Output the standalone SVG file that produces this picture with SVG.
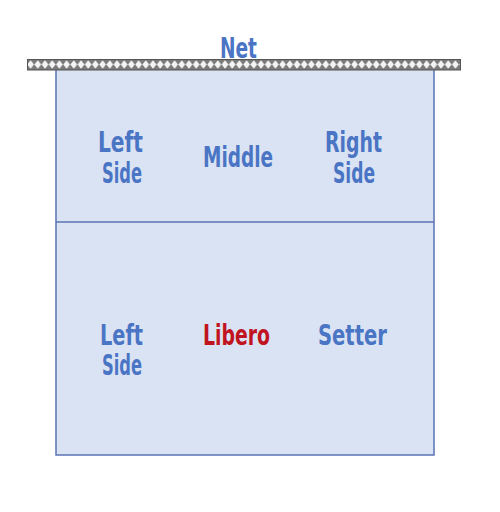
<svg xmlns="http://www.w3.org/2000/svg" width="500" height="512" viewBox="0 0 500 512">
<defs>
<pattern id="netpat" x="27" y="59" width="7.2" height="11" patternUnits="userSpaceOnUse">
<rect width="7.2" height="11" fill="#7a7a7a"/>
<path d="M3.6 1.2 L7 5.5 L3.6 9.8 L0.2 5.5 Z" fill="#f4f4f4"/>
</pattern>
<style>
.t{font-family:"DejaVu Sans Condensed","DejaVu Sans",sans-serif;font-weight:bold;font-size:28px;fill:#4a74c4;text-anchor:middle}
.r{fill:#c0141e}
</style>
</defs>
<rect width="500" height="512" fill="#ffffff"/>
<g id="court">
<rect x="56" y="66" width="378" height="389" fill="#dae3f3" stroke="#5a74b4" stroke-width="1.5"/>
<line x1="56" y1="222" x2="434" y2="222" stroke="#5a74b4" stroke-width="1.5"/>
</g>
<g id="net">
<rect x="27.5" y="59.5" width="433" height="10.5" fill="url(#netpat)" stroke="#555" stroke-width="1"/>
<text class="t" x="238.5" y="58" textLength="37" lengthAdjust="spacingAndGlyphs">Net</text>
</g>
<g id="front-left"><text class="t" x="120.5" y="152" textLength="45" lengthAdjust="spacingAndGlyphs">Left</text><text class="t" x="122" y="183" textLength="40" lengthAdjust="spacingAndGlyphs">Side</text></g>
<g id="front-middle"><text class="t" x="238" y="167" textLength="70" lengthAdjust="spacingAndGlyphs">Middle</text></g>
<g id="front-right"><text class="t" x="353.5" y="152" textLength="57" lengthAdjust="spacingAndGlyphs">Right</text><text class="t" x="354" y="183" textLength="42" lengthAdjust="spacingAndGlyphs">Side</text></g>
<g id="back-left"><text class="t" x="121.5" y="345" textLength="43" lengthAdjust="spacingAndGlyphs">Left</text><text class="t" x="122" y="375" textLength="40" lengthAdjust="spacingAndGlyphs">Side</text></g>
<g id="back-middle"><text class="t r" x="236.5" y="345" textLength="67" lengthAdjust="spacingAndGlyphs">Libero</text></g>
<g id="back-right"><text class="t" x="352.5" y="345" textLength="69" lengthAdjust="spacingAndGlyphs">Setter</text></g>
<g id="connectors"></g>
</svg>
